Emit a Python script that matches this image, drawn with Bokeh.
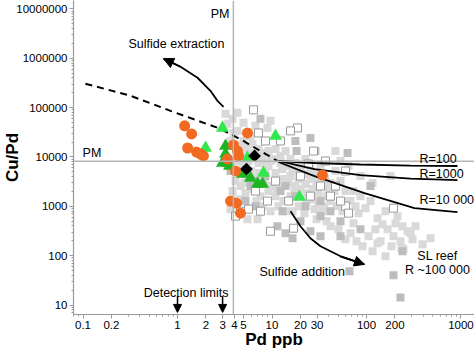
import math
from bokeh.plotting import figure
from bokeh.models import (FixedTicker, CustomJSTickFormatter, Label, Arrow,
                          NormalHead, Span)
from bokeh.embed import file_html
from bokeh.resources import INLINE

FONT = "Liberation Sans"

# ---------------- data ----------------
sq_light_pd = [3.22, 4.31, 3.82, 4.99, 3.38, 4.31, 3.64, 4.99, 8.96, 9.64, 6.69, 5.92, 3.91,
               4.64, 5.37, 6.22, 7.19, 7.93, 9.18, 10.9, 12.3, 13.9, 15.7, 17.7, 20.0, 22.6,
               25.5, 28.8, 32.6, 36.8, 41.6, 9.64, 8.53, 10.9, 12.9, 15.7, 19.1, 22.6, 26.8,
               31.0, 37.8, 4.11, 4.64, 3.82, 5.24, 6.22, 7.55, 9.18, 10.9, 13.2, 15.7, 19.1,
               23.2, 28.2, 4.87, 5.92, 7.19, 4.42, 3.64, 5.50, 7.03, 9.64,
               47.0, 53.1, 60.0, 72.8, 86.4, 97.6, 72.8, 131, 148, 167, 203, 240, 193, 272,
               229, 246, 307, 392, 141, 131, 184, 235, 110, 67.8, 82.3, 116, 179, 53.1, 47.0,
               64.5, 86.4, 11.7, 7.93, 13.9, 17.7, 34.2, 41.6, 60.0, 90.7,
               4.42, 5.12, 5.92, 6.86, 7.93, 9.18, 10.6, 12.3, 14.2, 16.5, 19.1, 22.1, 25.5,
               29.6, 34.2, 39.6, 45.8, 4.64, 5.37, 6.22, 7.19, 8.33, 9.64, 11.2, 12.9, 15.0,
               17.3, 20.0, 23.2, 26.8, 31.0, 35.9, 41.6, 48.2, 55.7, 64.5, 76.5, 4.21, 5.64,
               5.12, 6.86, 7.93, 11.7, 16.5, 22.1, 29.6, 37.8, 50.6, 67.8, 78.4, 105, 124,
               159, 213, 292, 330, 476, 116, 159]
sq_light_cupd = [74800, 78400, 59200, 49100, 46900, 33800, 21100, 21100, 38800, 53900, 42700,
                 26700, 30700, 16700, 15200, 18400, 14500, 12100, 13200, 14500, 10500, 13200,
                 9100, 7550, 6560, 9100, 5700, 4730, 6560, 3570, 2960, 8300, 5700, 4730, 5700,
                 4110, 3570, 2830, 2240, 1850, 1610, 3250, 2580, 2040, 1850, 2240, 1610, 2040,
                 1610, 1280, 1610, 1010, 1280, 877, 6560, 5190, 7550, 1400, 877, 549, 549, 798,
                 5190, 3250, 2040, 2040, 1610, 918, 456, 575, 435, 344, 456, 396, 248, 313,
                 196, 135, 215, 171, 196, 179, 155, 141, 1280, 1280, 728, 2960, 4110, 8300,
                 13200, 6560, 4110, 2960, 3570, 798, 2580, 798, 396, 215, 155,
                 13200, 10500, 12100, 9550, 8300, 6560, 9100, 7550, 6560, 5700, 5190, 4510,
                 3570, 3250, 2830, 2240, 2040, 5190, 4110, 3570, 4730, 3250, 2580, 2240, 3570,
                 2960, 2040, 2240, 1850, 1400, 1160, 1010, 1280, 1010, 798, 1280, 1010, 8300,
                 8300, 2960, 1280, 1010, 1010, 798, 728, 549, 500, 344, 285, 196, 248, 344,
                 798, 632, 285, 396, 226, 123, 97.2]

sq_mid_pd = [7.55, 17.7, 25.5, 18.2, 63.0, 11.4, 13.9, 16.5, 66.1, 193, 229, 240, 6.69, 12.9,
             32.6, 41.6, 53.1, 20.0, 25.5, 5.24, 3.64, 13.9, 28.8, 86.4, 110, 6.69, 32.6,
             8.53, 17.7, 12.3, 22.6, 5.92, 32.6, 53.1]
sq_mid_cupd = [59200, 21100, 24300, 13200, 12100, 396, 285, 226, 48.2, 40.0, 14.3, 123, 1010,
               798, 1280, 798, 500, 500, 313, 1280, 5190, 2580, 13200, 344, 2580, 3250, 248,
               4110, 1610, 2040, 1010, 2580, 632, 248]

sq_open_pd = [6.37, 7.19, 18.6, 27.5, 24.3, 60.0, 64.5, 193, 5.64, 7.55, 16.9, 8.96, 15.0,
              12.3, 15.7, 8.53, 20.0, 32.6, 36.8, 41.6, 53.1, 10.9, 6.69, 25.5, 4.64, 9.64,
              4.11, 47.0, 60.0]
sq_open_cupd = [90200, 30700, 38800, 13200, 7210, 1010, 728, 918, 877, 798, 360, 1280, 1280,
                21100, 33800, 21100, 4110, 2580, 8300, 1610, 1280, 3250, 2040, 1610, 798, 313,
                632, 2580, 5190]

orange_pd = [1.19, 1.41, 1.28, 1.59, 1.75, 1.88, 5.5, 4.31, 4.42, 3.38, 4.11, 3.64, 4.21,
             4.64, 34.2, 3.91]
orange_cupd = [42700, 29300, 15200, 12600, 11500, 10500, 30700, 13200, 10500, 9100, 5190,
               1280, 1160, 728, 4300, 17500]

tri_bright_pd = [2.99, 1.98, 5.5, 8.13, 10.9, 19.5]
tri_bright_cupd = [38800, 15200, 9550, 4730, 26700, 1540]

tri_dark_pd = [3.22, 3.22, 2.99, 3.46, 4.87, 5.92, 7.02, 7.93, 3.55]
tri_dark_cupd = [16700, 11500, 7550, 7550, 4510, 3740, 2830, 2830, 6560]

diamond_pd = [6.54, 5.37]
diamond_cupd = [10500, 5700]

dashed_pd = [0.106, 0.318, 0.843, 2.85, 4.99, 7.55, 11.4]
dashed_cupd = [305000, 174000, 86100, 37100, 21100, 13200, 8300]

r100_pd = [11.7, 28.2, 86.4, 292, 918]
r100_cupd = [8300, 7550, 7040, 6710, 6560]
r1000_pd = [11.7, 28.2, 86.4, 292, 918]
r1000_cupd = [8300, 5700, 4300, 3650, 3410]
r10000_pd = [11.7, 28.2, 95.2, 322, 918]
r10000_cupd = [7910, 4110, 1850, 918, 762]

addition_pd = [15.7, 20.0, 25.5, 32.6, 53.1, 95.2]
addition_cupd = [798, 396, 226, 155, 97.2, 66.8]

extraction_pd = [3.07, 2.65, 2.23, 1.63, 1.076, 0.711]
extraction_cupd = [104000, 137000, 219000, 403000, 675000, 982000]

pm_pd = 3.9
pm_cupd = 8200
detection_pd = [1, 3]
detection_cupd = [15.0, 7.1]

x_ticks = [0.1, 0.2, 1, 2, 3, 4, 5, 10, 20, 30, 100, 200, 1000]
x_minor = [0.08, 0.09, 0.3, 0.4, 0.5, 0.6, 0.7, 0.8, 0.9, 6, 7, 8, 9,
           40, 50, 60, 70, 80, 90, 300, 400, 500, 600, 700, 800, 900]
y_ticks = [10, 100, 1000, 10000, 100000, 1000000, 10000000]
y_minor = [m * 10 ** e for e in range(0, 8) for m in range(2, 10) if 6.4 < m * 10 ** e < 1.48e7]

# ---------------- figure ----------------
p = figure(width=474, height=351, x_axis_type="log", y_axis_type="log",
           x_range=(0.0793, 1390), y_range=(6.44, 1.48e7),
           output_backend="svg", toolbar_location=None,
           min_border_left=0, min_border_right=0, min_border_top=0, min_border_bottom=0)
p.title.visible = False
p.outline_line_color = None
p.grid.visible = False
p.background_fill_color = "white"
p.border_fill_color = "white"

fmt = CustomJSTickFormatter(code="return tick.toString();")
for ax, tk, mn in ((p.xaxis[0], x_ticks, x_minor), (p.yaxis[0], y_ticks, y_minor)):
    ax.ticker = FixedTicker(ticks=tk, minor_ticks=mn)
    ax.formatter = fmt
    ax.axis_line_color = "#9a9a9a"
    ax.axis_line_width = 1.2
    ax.major_tick_line_color = "#9a9a9a"
    ax.minor_tick_line_color = "#9a9a9a"
    ax.major_tick_out = 4
    ax.major_tick_in = 0
    ax.minor_tick_out = 2
    ax.minor_tick_in = 0
    ax.major_label_text_font = FONT
    ax.major_label_text_font_size = "11.5px"
    ax.major_label_text_color = "black"
    ax.major_label_standoff = 2
    ax.axis_label_text_font = FONT
    ax.axis_label_text_font_style = "bold"
    ax.axis_label_text_font_size = "17px"
    ax.axis_label_text_color = "black"

p.xaxis.axis_label = "Pd ppb"
p.yaxis.axis_label = "Cu/Pd"
p.xaxis.axis_label_standoff = -2
p.yaxis.axis_label_standoff = -9

# PM reference lines
p.add_layout(Span(location=pm_pd, dimension="height", line_color="#b5b5b5", line_width=1.5))
p.add_layout(Span(location=pm_cupd, dimension="width", line_color="#b5b5b5", line_width=1.5))

# gray data
p.scatter(sq_light_pd, sq_light_cupd, marker="square", size=8, fill_color="#d9d9d9", line_color=None)
p.scatter(sq_mid_pd, sq_mid_cupd, marker="square", size=8, fill_color="#bdbdbd", line_color=None)
p.scatter(sq_open_pd, sq_open_cupd, marker="square", size=8, fill_color="white",
          line_color="#9a9a9a", line_width=1)

# model lines
p.line(dashed_pd, dashed_cupd, line_color="black", line_width=2, line_dash="7 5")
for xs, ys in ((r100_pd, r100_cupd), (r1000_pd, r1000_cupd), (r10000_pd, r10000_cupd)):
    p.line(xs, ys, line_color="black", line_width=1.8)
p.line(addition_pd, addition_cupd, line_color="black", line_width=1.8)
p.line(extraction_pd, extraction_cupd, line_color="black", line_width=1.8)

p.add_layout(Arrow(end=NormalHead(size=10, fill_color="black", line_color="black"),
                   x_start=addition_pd[-2], y_start=addition_cupd[-2],
                   x_end=addition_pd[-1], y_end=addition_cupd[-1],
                   line_color="black", line_width=1.8))
p.add_layout(Arrow(end=NormalHead(size=10, fill_color="black", line_color="black"),
                   x_start=extraction_pd[-2], y_start=extraction_cupd[-2],
                   x_end=extraction_pd[-1], y_end=extraction_cupd[-1],
                   line_color="black", line_width=1.8))
for d in detection_pd:
    p.add_layout(Arrow(end=NormalHead(size=8, fill_color="black", line_color="black"),
                       x_start=d, y_start=detection_cupd[0], x_end=d, y_end=detection_cupd[1],
                       line_color="black", line_width=1.5))

# samples
p.scatter(tri_dark_pd, tri_dark_cupd, marker="triangle", size=13, fill_color="#1fb522", line_color=None)
p.scatter(tri_bright_pd, tri_bright_cupd, marker="triangle", size=13, fill_color="#30e84a", line_color=None)
p.scatter(orange_pd, orange_cupd, marker="circle", size=11, fill_color="#f26a21", line_color=None)
p.scatter(diamond_pd, diamond_cupd, marker="square", size=9, angle=math.pi / 4,
          fill_color="black", line_color=None)

# texts
def lab(x, y, t, align="left"):
    p.add_layout(Label(x=x, y=y, text=t, text_font=FONT, text_font_size="12.5px",
                       text_color="black", text_align=align, text_baseline="middle"))

lab(3.55, 8.07e6, "PM", align="right")
lab(0.303, 1.98e6, "Sulfide extraction")
lab(0.0989, 12100, "PM")
lab(364, 9100, "R=100")
lab(364, 4510, "R=1000")
lab(364, 1340, "R=10 000")
lab(564, 97.3, "SL reef", align="center")
lab(564, 50.5, "R ~100 000", align="center")
lab(7.38, 46, "Sulfide addition")
lab(3.46, 17.5, "Detection limits", align="right")

open("out.html", "w").write(file_html(p, INLINE))
